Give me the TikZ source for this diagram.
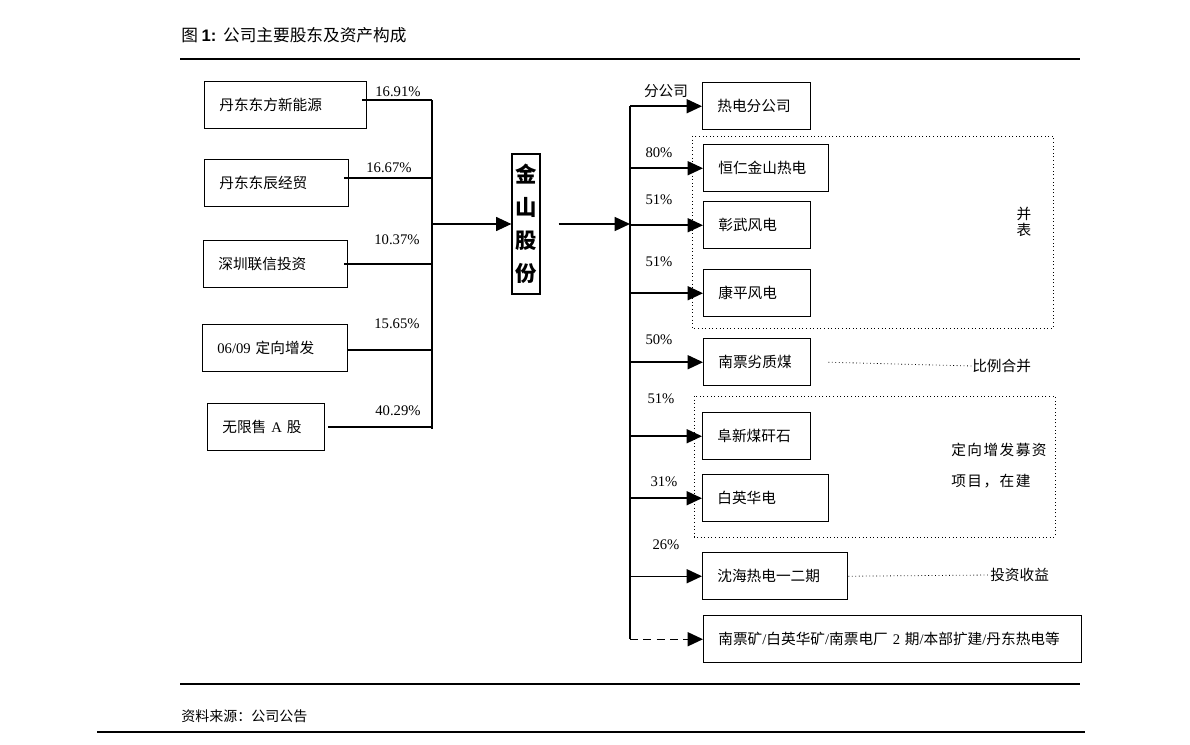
\documentclass[tikz,border=0pt]{standalone}
\usepackage{fontspec}
\setmainfont{Liberation Serif}
\setsansfont{Liberation Sans}
\newfontfamily\cjk{Noto Sans CJK SC}
\usetikzlibrary{arrows.meta}
\begin{document}
\begin{tikzpicture}[x=0.75pt,y=-0.75pt,
  ln/.style={line width=1.1pt},
  arr/.style={ln,-{Triangle[length=11.5pt,width=10.5pt]}},
  box/.style={draw,line width=1.1pt,anchor=north west,inner xsep=11pt,inner ysep=0pt,minimum height=35.25pt,align=left,font=\cjk\fontsize{11}{13}\selectfont},
  pct/.style={font=\fontsize{11}{13}\selectfont,inner sep=0pt},
  note/.style={font=\cjk\fontsize{11}{13}\selectfont,inner sep=0pt},
  dotbox/.style={draw,dotted,line width=0.7pt},
  dotln/.style={dotted,line width=0.6pt}
]
\useasboundingbox (0,0) rectangle (1190,745);

% title and rules
\node[anchor=west,inner sep=0pt,font=\cjk\fontsize{12.5}{15}\selectfont] (title) at (181,35)
  {图 {\sffamily\bfseries 1:}\hspace{5pt}公司主要股东及资产构成};
\draw[line width=1.5pt] (180,59) -- (1080,59);
\draw[line width=1.5pt] (180,684) -- (1080,684);
\draw[line width=1.1pt] (97,732) -- (1085,732);
\node[anchor=west,inner sep=0pt,font=\cjk\fontsize{10.5}{12}\selectfont] (src) at (181,716) {资料来源：公司公告};

% shareholders
\node[box,text width=99.5pt] (s1) at (204,81) {丹东东方新能源};
\node[box,text width=86pt] (s2) at (204,159) {丹东东辰经贸};
\node[box,text width=86pt] (s3) at (203,240) {深圳联信投资};
\node[box,text width=86.75pt] (s4) at (202,324) {\rmfamily 06/09 \cjk 定向增发};
\node[box,text width=65.75pt] (s5) at (207,403) {无限售 \rmfamily A \cjk 股};

\coordinate (busL) at (432,0);
\coordinate (c1) at ([shift={(-5,-5)}]s1.east);
\coordinate (c2) at ([shift={(-5,-5)}]s2.east);
\coordinate (c3) at ([shift={(-4,0)}]s3.east);
\coordinate (c4) at ([shift={(0,2)}]s4.east);
\coordinate (c5) at ([shift={(3,0)}]s5.east);
\foreach \c in {c1,c2,c3,c4,c5} \draw[ln] (\c) -- (\c -| busL);
\draw[ln] (c1 -| busL) -- ([yshift=-1.5pt]c5 -| busL);

\node[pct] (p1) at (398,92) {16.91\%};
\node[pct] (p2) at (389,168) {16.67\%};
\node[pct] (p3) at (397,240) {10.37\%};
\node[pct] (p4) at (397,324) {15.65\%};
\node[pct] (p5) at (398,411) {40.29\%};

% company
\node[draw,line width=0.9pt,minimum width=21pt,minimum height=105pt,inner sep=0pt,align=center,
  font=\cjk\bfseries\fontsize{16}{24.75}\selectfont] (js) at (526,224) {金\\山\\股\\份};
\draw[arr] (js.west -| busL) -- (js.west);
\coordinate (busR) at (630,0);
\coordinate (jsout) at ([xshift=13.5pt]js.east);
\draw[arr] (jsout) -- (jsout -| busR);

% subsidiaries
\node[box,text width=59pt] (r1) at (702,82) {热电分公司};
\node[box,text width=71.75pt] (r2) at (703,144) {恒仁金山热电};
\node[box,text width=58.25pt] (r3) at (703,201) {彰武风电};
\node[box,text width=58.25pt] (r4) at (703,269) {康平风电};
\node[box,text width=58.25pt] (r5) at (703,338) {南票劣质煤};
\node[box,text width=59pt] (r6) at (702,412) {阜新煤矸石};
\node[box,text width=72.5pt] (r7) at (702,474) {白英华电};
\node[box,text width=86.75pt] (r8) at (702,552) {沈海热电一二期};
\node[box,text width=261.5pt] (r9) at (703,615) {南票矿{\rmfamily /}白英华矿{\rmfamily /}南票电厂 {\rmfamily 2} 期{\rmfamily /}本部扩建{\rmfamily /}丹东热电等};

\draw[ln] (r1.west -| busR) -- (r9.west -| busR);
\foreach \n in {r1,r2,r3,r4,r5,r6,r7,r8} \draw[arr] (\n.west -| busR) -- (\n.west);
\draw[arr,dash pattern=on 6pt off 4pt] (r9.west -| busR) -- (r9.west);

\node[note] (l1) at (666,91) {分公司};
\node[pct] (l2) at (659,153) {80\%};
\node[pct] (l3) at (659,200) {51\%};
\node[pct] (l4) at (659,262) {51\%};
\node[pct] (l5) at (659,340) {50\%};
\node[pct] (l6) at (661,399) {51\%};
\node[pct] (l7) at (664,482) {31\%};
\node[pct] (l8) at (666,545) {26\%};

% groupings
\draw[dotbox] (692,136) rectangle (1053,328);
\draw[dotbox] (694,396) rectangle (1055,537);
\node[note,align=center,font=\cjk\fontsize{11}{11.5}\selectfont] (bb) at (1024,222) {并\\表};
\node[note,anchor=north west,align=left,font=\cjk\fontsize{11}{23}\selectfont\addfontfeature{LetterSpace=10}] (dx) at (951,443) {定向增发募资\\项目，在建};
\node[note,anchor=west] (blhb) at (972,366) {比例合并};
\draw[dotln] ([xshift=12.75pt]r5.east) -- (blhb.west);
\node[note,anchor=west] (tzsy) at (990,575) {投资收益};
\draw[dotln] (r8.east) -- (tzsy.west);
\end{tikzpicture}
\end{document}
